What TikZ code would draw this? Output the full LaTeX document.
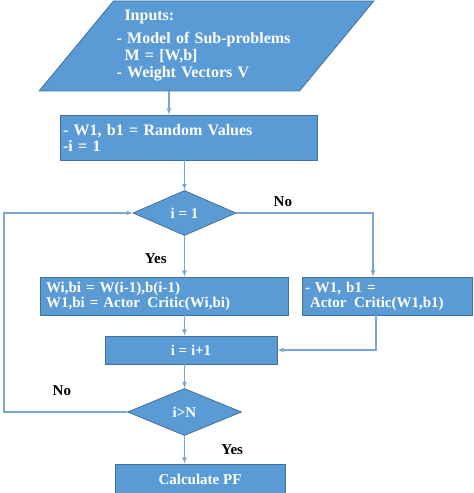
\documentclass[tikz,border=0pt]{standalone}
\usepackage{fontspec}
\setmainfont{Liberation Serif}
\usepackage{tikz}
\usetikzlibrary{arrows}
\usetikzlibrary{shapes}
\usetikzlibrary{shapes.geometric}
\definecolor{boxblue}{HTML}{5B9BD5}
\definecolor{boxedge}{HTML}{41719C}
\definecolor{flowblue}{HTML}{7AA8D6}
\tikzset{
  block/.style={draw=boxedge,fill=boxblue,text=white,line width=0.8pt,
    font=\bfseries\fontsize{15}{15}\selectfont,inner sep=3pt},
  decision/.style={block,diamond,inner sep=0pt},
  flowline/.style={draw=flowblue,line width=1.1pt},
  lbl/.style={font=\bfseries\fontsize{15}{15}\selectfont,text=black},
  >=latex,
}

\begin{document}
\begin{tikzpicture}
      \useasboundingbox (0,0) rectangle (474pt,493pt);

      \node[block,trapezium,trapezium left angle=46,trapezium right angle=134,
        trapezium stretches body,minimum width=329pt,minimum height=90pt,
        text width=180pt,align=left,font=\bfseries\fontsize{16}{17}\selectfont]
        (inputs) at (206.5pt,447pt)
        {\hspace{8pt}Inputs:\\[6pt] - Model of Sub-problems\\ \hspace{8pt}M = [W,b]\\ - Weight Vectors V};
      \node[block,minimum width=257pt,minimum height=45pt,text width=251pt,align=left,
        font=\bfseries\fontsize{16}{16}\selectfont]
        (init) at (188.5pt,355.5pt) {- W1, b1 = Random Values\\ -i = 1};
      \node[decision,minimum width=103pt,minimum height=45pt] (first) at (184.5pt,280pt) {i = 1};
      \node[block,minimum width=248pt,minimum height=38pt,text width=236pt,align=left]
        (update) at (164pt,197pt) {Wi,bi = W(i-1),b(i-1)\\ W1,bi = Actor\enspace Critic(Wi,bi)};
      \node[block,minimum width=170pt,minimum height=38pt,text width=164pt,align=left]
        (reset) at (387pt,197pt) {- W1, b1 =\\ \hspace{5pt}Actor\enspace Critic(W1,b1)};
      \node[block,minimum width=172pt,minimum height=28pt] (step) at (191pt,143pt) {i = i+1};
      \node[decision,minimum width=114pt,minimum height=47pt] (last) at (184.5pt,81pt) {i>N};
      \node[block,minimum width=170pt,minimum height=31pt] (pf) at (200pt,13.5pt) {Calculate PF};

      \coordinate (back) at (4pt,0);

      \draw[->,flowline] (inputs.bottom side) -- (inputs.bottom side |- init.north);
      \draw[->,flowline] (init.south -| first.north) -- (first.north);
      \draw[->,flowline] (first.south) --
        node[lbl,pos=0.55,left=14pt] (yes1) {Yes} (first.south |- update.north);
      \draw[->,flowline] (first.east) -| node[lbl,pos=0.17,above=2pt] (no1) {No}
        ([xshift=-14pt]reset.north);
      \draw[->,flowline] (update.south -| last.north) -- (step.north -| last.north);
      \draw[->,flowline] ([xshift=-11pt]reset.south) |- (step.east);
      \draw[->,flowline] (step.south -| last.north) -- (last.north);
      \draw[->,flowline] (last.west) -- node[lbl,pos=0.53,above=12pt] (no2) {No}
        (last.west -| back) |- (first.west);
      \draw[->,flowline] (last.south) --
        node[lbl,midway,right=33pt] (yes2) {Yes} (last.south |- pf.north);
\end{tikzpicture}
\end{document}
